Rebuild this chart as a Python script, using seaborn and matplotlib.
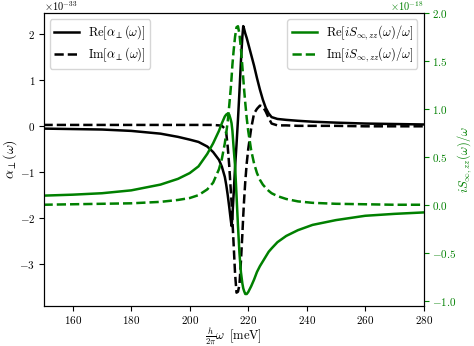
import numpy as np
import matplotlib
matplotlib.use("Agg")
import matplotlib.pyplot as plt
import seaborn as sns

# energy grid (meV)
energy = [150, 160, 170, 180, 190, 196, 200, 203, 206, 208,
          210, 211, 212, 212.5, 213, 213.5, 214, 214.3, 214.6, 215,
          215.5, 216, 216.5, 217, 217.5, 218, 218.3, 218.6, 219, 219.5,
          220, 221, 222, 223, 224, 225, 226, 227, 228, 230,
          233, 237, 242, 250, 260, 270, 280]

# Re[alpha_perp] in units of 1e-33
re_alpha = [-0.05, -0.06, -0.07, -0.10, -0.16, -0.23, -0.29, -0.34, -0.44, -0.56,
            -0.73, -0.88, -1.10, -1.28, -1.50, -1.75, -2.02, -2.17, -1.95, -1.50,
            -0.90, -0.40, 0.15, 0.75, 1.40, 1.95, 2.18, 2.12, 2.02, 1.92,
            1.80, 1.56, 1.32, 1.05, 0.80, 0.58, 0.40, 0.28, 0.20, 0.16,
            0.14, 0.12, 0.10, 0.08, 0.06, 0.05, 0.04]

# Im[alpha_perp] in units of 1e-33
im_alpha = [0.03, 0.03, 0.03, 0.03, 0.03, 0.03, 0.03, 0.03, 0.03, 0.03,
            0.02, 0.01, -0.05, -0.15, -0.45, -0.85, -1.35, -1.65, -2.05, -2.55,
            -3.20, -3.62, -3.60, -3.45, -2.95, -2.35, -1.95, -1.60, -1.20, -0.80,
            -0.50, -0.05, 0.28, 0.38, 0.45, 0.43, 0.32, 0.18, 0.06, 0.02,
            0.02, 0.01, 0.01, 0.01, 0.0, 0.0, 0.0]

# Re[i S_inf,zz / omega] in units of 1e-18
re_s = [0.095, 0.105, 0.12, 0.15, 0.21, 0.27, 0.33, 0.40, 0.53, 0.64,
        0.77, 0.85, 0.92, 0.94, 0.95, 0.94, 0.89, 0.85, 0.77, 0.60,
        0.41, 0.10, -0.22, -0.50, -0.70, -0.82, -0.87, -0.90, -0.93, -0.93,
        -0.91, -0.85, -0.78, -0.70, -0.64, -0.59, -0.54, -0.49, -0.455, -0.39,
        -0.325, -0.265, -0.21, -0.16, -0.115, -0.095, -0.08]

# Im[i S_inf,zz / omega] in units of 1e-18
im_s = [0.0, 0.005, 0.01, 0.015, 0.03, 0.05, 0.07, 0.10, 0.16, 0.23,
        0.37, 0.48, 0.64, 0.75, 0.87, 1.03, 1.20, 1.32, 1.46, 1.60,
        1.75, 1.85, 1.86, 1.78, 1.63, 1.44, 1.32, 1.20, 1.06, 0.90,
        0.77, 0.57, 0.43, 0.33, 0.26, 0.21, 0.175, 0.145, 0.12, 0.09,
        0.06, 0.035, 0.02, 0.01, 0.005, 0.0, 0.0]

alpha_exp = -33
s_exp = -18

x_ticks = [160, 180, 200, 220, 240, 260, 280]
left_ticks = [-3, -2, -1, 0, 1, 2]
right_ticks = [-1.0, -0.5, 0.0, 0.5, 1.0, 1.5, 2.0]

plt.rcParams['font.family'] = 'serif'
plt.rcParams['font.serif'] = ['cmr10', 'DejaVu Serif']
plt.rcParams['mathtext.fontset'] = 'cm'
plt.rcParams['axes.formatter.use_mathtext'] = True

GREEN = '#008000'

fig = plt.figure(figsize=(4.74, 3.46), dpi=100)
ax1 = fig.add_axes([0.0918, 0.117, 0.802, 0.846])
ax2 = ax1.twinx()

e = np.array(energy)
sns.lineplot(x=e, y=np.array(re_alpha), ax=ax1, color='black',
             lw=1.8, sort=False, label=r'$\mathrm{Re}[\alpha_\perp(\omega)]$')
sns.lineplot(x=e, y=np.array(im_alpha), ax=ax1, color='black',
             lw=1.8, linestyle='--', sort=False,
             label=r'$\mathrm{Im}[\alpha_\perp(\omega)]$')
sns.lineplot(x=e, y=np.array(re_s), ax=ax2, color=GREEN,
             lw=1.8, sort=False,
             label=r'$\mathrm{Re}[iS_{\infty,zz}(\omega)/\omega]$')
sns.lineplot(x=e, y=np.array(im_s), ax=ax2, color=GREEN,
             lw=1.8, linestyle='--', sort=False,
             label=r'$\mathrm{Im}[iS_{\infty,zz}(\omega)/\omega]$')

ax1.set_xlim(150, 280)
ax1.set_xticks(x_ticks)
ax1.set_xticklabels([rf'${v}$' for v in x_ticks])
ax1.set_ylim(-3.9, 2.47)
ax2.set_ylim(-1.05, 2.0)
ax1.set_yticks(left_ticks)
ax1.set_yticklabels([rf'${v}$' for v in left_ticks])
ax2.set_yticks(right_ticks)
ax2.set_yticklabels([rf'${v:.1f}$' for v in right_ticks])

# scale factors (offset texts)
ax1.text(0.0, 1.0, rf'$\times10^{{{alpha_exp}}}$', transform=ax1.transAxes,
         ha='left', va='bottom', fontsize=7.5)
ax2.text(1.0, 1.0, rf'$\times10^{{{s_exp}}}$', transform=ax2.transAxes,
         ha='right', va='bottom', fontsize=7.5, color=GREEN)

ax1.set_xlabel(r'$\frac{h}{2\pi}\omega\ \,[\mathrm{meV}]$', fontsize=9, labelpad=-0.5)
ax1.set_ylabel(r'$\alpha_\perp(\omega)$', fontsize=10, labelpad=0)
ax2.set_ylabel(r'$iS_{\infty,zz}(\omega)/\omega$', fontsize=9, color=GREEN, labelpad=-1)

ax1.tick_params(labelsize=8, pad=2.5)
ax2.tick_params(labelsize=8, colors=GREEN, pad=2.5)
ax2.spines['right'].set_color('black')

leg_kw = dict(fontsize=9, handlelength=2.0, labelspacing=0.3, borderpad=0.35,
              handletextpad=0.7, borderaxespad=0.5)
ax1.legend(loc='upper left', **leg_kw)
ax2.legend(loc='upper right', **leg_kw)

fig.savefig('out.png', dpi=100)
